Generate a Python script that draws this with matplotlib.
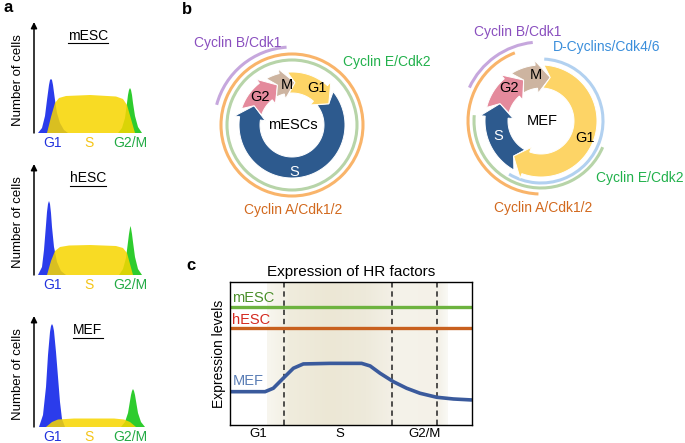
import numpy as np
import matplotlib
matplotlib.use('Agg')
import matplotlib.pyplot as plt
from matplotlib.patches import Arc, Polygon
from matplotlib.colors import LinearSegmentedColormap
from matplotlib.lines import Line2D

plt.rcParams['font.family'] = ['Liberation Sans', 'DejaVu Sans']

W, H = 685, 443

# ---------------- data: panel a (DNA content profiles) ----------------
HIST_NAMES = ['mESC', 'hESC', 'MEF']
G1_X = [[4, 8, 11, 13, 15, 16, 17, 18, 19, 21, 23, 26, 30, 34],
        [4, 8, 10, 12, 13, 14, 15, 16, 17, 18, 20, 23, 27, 32],
        [5, 9, 12, 14, 16, 17, 18, 19, 20, 22, 24, 26, 28, 31]]
G1_Y = [[0, 5, 17, 33, 48, 53, 54, 53, 48, 33, 20, 10, 3, 0],
        [0, 8, 25, 50, 63, 71, 74, 71, 62, 48, 28, 13, 4, 0],
        [0, 12, 40, 72, 95, 101, 103, 101, 96, 75, 50, 25, 8, 0]]
S_X = [[13, 17, 21, 25, 32, 56, 82, 89, 93, 97, 101],
       [13, 17, 21, 26, 35, 56, 82, 89, 93, 96, 99],
       [12, 18, 24, 40, 60, 80, 90, 96, 102]]
S_Y = [[0, 16, 30, 35, 37, 38, 36.5, 34, 28, 14, 0],
       [0, 14, 24, 28, 29.5, 30, 29, 27, 22, 11, 0],
       [0, 5, 7.5, 8.5, 8.5, 8.5, 7.5, 5, 0]]
G2M_X = [[84, 88, 91, 93, 94, 95, 96, 97, 98, 99, 101, 104, 108],
         [85, 89, 92, 94, 95, 96, 96.5, 97, 98, 99, 101, 104, 108],
         [87, 91, 94, 96, 97, 98, 99, 100, 101, 102, 104, 107, 111]]
G2M_Y = [[0, 5, 15, 30, 38, 43, 45, 43, 38, 30, 17, 6, 0],
         [0, 6, 17, 33, 41, 47, 49, 47, 41, 33, 18, 6, 0],
         [0, 5, 14, 26, 32, 36, 38, 36, 32, 26, 14, 5, 0]]

# ---------------- data: panel b (cell cycle) ----------------
PHASES = ['S', 'G2', 'M', 'G1']
MESC_START = [39, 162, 119, 95]      # degrees, arrows run clockwise
MESC_TIP = [-207, 110, 86, 30]
MEF_START = [241, 166, 122, 87]
MEF_TIP = [157, 113, 78, -128]

# cyclin arcs: (label, radius, theta1, theta2)
MESC_CYCLINS = [('Cyclin B/Cdk1', 78, 94, 165),
                ('Cyclin E/Cdk2', 65, 0, 360),
                ('Cyclin A/Cdk1/2', 71, 0, 360)]
MEF_CYCLINS = [('Cyclin B/Cdk1', 79, 96, 155),
               ('D-Cyclins/Cdk4/6', 62, -121, 87),
               ('Cyclin E/Cdk2', 67, 175, 337),
               ('Cyclin A/Cdk1/2', 73, 111, 268)]

# ---------------- data: panel c (HR factor expression) ----------------
EXPR_X = [0, 14.5, 17.9, 22.0, 26.2, 30.3, 41.3, 54.4, 57.9, 62.0, 67.5, 73.0, 78.5, 85.4, 92.3, 100]
MEF_EXPR = [23.3, 23.3, 25.7, 32.7, 39.7, 42.7, 43.1, 43.1, 41.3, 36.2, 30.3, 25.7, 22.2, 19.4, 18.2, 17.5]
MESC_EXPR = 82.5
HESC_EXPR = 67.8
PHASE_BOUNDS = [22.3, 66.9, 85.5]
PHASE_TICKS = [11.6, 45.5, 80.6]
PHASE_LABELS = ['G1', 'S', 'G2/M']
SHADE_SPAN = [15.3, 89.7]

# ---------------- styles ----------------
C_BLUE, C_YEL, C_GRN = '#2B3CEB', '#F7D600', '#2ECC2E'
PHASE_COL = {'G1': '#FDD466', 'S': '#2D5A8E', 'G2': '#E48A9C', 'M': '#CDB4A0'}
CYC_COL = {'Cyclin B/Cdk1': ('#C6A7DD', '#8A4FBF'),
           'Cyclin E/Cdk2': ('#B7D4A8', '#22B14C'),
           'Cyclin A/Cdk1/2': ('#F9B46A', '#D2691E'),
           'D-Cyclins/Cdk4/6': ('#B2D1F0', '#3A8EDB')}


def px_axes(fig, left, top, right, bottom):
    return fig.add_axes([left / W, 1 - bottom / H, (right - left) / W, (bottom - top) / H])


fig = plt.figure(figsize=(W / 100, H / 100), dpi=100)

# ===== panel a =====
hist_tops = [22, 164, 316]
underline_texts = []
for i, name in enumerate(HIST_NAMES):
    top = hist_tops[i]
    ax = px_axes(fig, 34, top, 146, top + 111)
    ax.set_xlim(0, 112)
    ax.set_ylim(0, 111)
    ax.axis('off')
    ax.fill(G1_X[i], G1_Y[i], color=C_BLUE, lw=0, zorder=2)
    ax.fill(G2M_X[i], G2M_Y[i], color=C_GRN, lw=0, zorder=2)
    ax.fill(S_X[i], S_Y[i], color=C_YEL, alpha=0.86, lw=0, zorder=3)
    ax.annotate('', xy=(0, 1), xycoords='axes fraction', xytext=(0, 0),
                arrowprops=dict(arrowstyle='-|>', lw=1.1, color='black', mutation_scale=9,
                                shrinkA=0, shrinkB=0), annotation_clip=False)
    t = ax.text(54, 97, name, ha='center', va='center', fontsize=10)
    underline_texts.append((t, ax))
    ax.text(-16, 53, 'Number of cells', rotation=90, ha='center', va='center', fontsize=9.5)
    ax.text(18, -10, 'G1', color='#2233DD', ha='center', va='center', fontsize=10)
    ax.text(55, -10, 'S', color='#F5C518', ha='center', va='center', fontsize=10)
    ax.text(96, -10, 'G2/M', color='#22AA44', ha='center', va='center', fontsize=10)

fig.text(4 / W, 1 - 8 / H, 'a', fontsize=12, fontweight='bold', va='center')
fig.text(182 / W, 1 - 10 / H, 'b', fontsize=12, fontweight='bold', va='center')
fig.text(186 / W, 1 - 265 / H, 'c', fontsize=12, fontweight='bold', va='center')


# ===== panel b =====
def polar(r, a):
    a = np.radians(a)
    return (r * np.cos(a), r * np.sin(a))


def cycle_arrow(ax, start, tip, r_in, r_out, color, head=18, notch=9, flare=5):
    r_mid = (r_in + r_out) / 2
    neck = tip + head
    angs = np.linspace(start, neck, 80)
    pts = [polar(r_out, a) for a in angs]
    pts += [polar(r_out + flare, neck), polar(r_mid, tip), polar(r_in - flare, neck)]
    pts += [polar(r_in, a) for a in angs[::-1]]
    pts += [polar(r_mid, start - notch)]
    ax.add_patch(Polygon(pts, closed=True, fc=color, ec='white', lw=0.7))


def cycle_panel(cx, cy, r_in, r_out, starts, tips, cyclins, inner, label_pos):
    ax = px_axes(fig, cx - 100, cy - 100, cx + 100, cy + 100)
    ax.set_xlim(-100, 100)
    ax.set_ylim(-100, 100)
    ax.axis('off')
    for name, r, t1, t2 in cyclins:
        ax.add_patch(Arc((0, 0), 2 * r, 2 * r, theta1=t1, theta2=t2,
                         color=CYC_COL[name][0], lw=2.2))
    for ph, s, t in zip(PHASES, starts, tips):
        cycle_arrow(ax, s, t, r_in, r_out, PHASE_COL[ph])
    ax.text(1, 0, inner, ha='center', va='center', fontsize=10.5)
    for ph, (x, y) in label_pos.items():
        ax.text(x, y, ph, ha='center', va='center', fontsize=10.5,
                color='white' if ph == 'S' else 'black')
    return ax


cycle_panel(292, 125, 32, 53, MESC_START, MESC_TIP, MESC_CYCLINS, 'mESCs',
            {'G2': (-32, 28), 'M': (-5, 40), 'G1': (25, 37), 'S': (2, -47)})
cycle_panel(541, 121, 33, 56, MEF_START, MEF_TIP, MEF_CYCLINS, 'MEF',
            {'G2': (-32, 33), 'M': (-5, 46), 'G1': (44, -17), 'S': (-43, -15)})

cyc_text_pos = [('Cyclin B/Cdk1', 238, 43), ('Cyclin E/Cdk2', 387, 62), ('Cyclin A/Cdk1/2', 293, 210),
                ('Cyclin B/Cdk1', 518, 32), ('D-Cyclins/Cdk4/6', 607, 47),
                ('Cyclin E/Cdk2', 640, 178), ('Cyclin A/Cdk1/2', 543, 208)]
for name, x, y in cyc_text_pos:
    fig.text(x / W, 1 - y / H, name, color=CYC_COL[name][1], ha='center', va='center', fontsize=10)

# ===== panel c =====
axc = px_axes(fig, 230, 282, 472, 425)
axc.set_xlim(0, 100)
axc.set_ylim(0, 100)
shade = LinearSegmentedColormap.from_list('shade', [
    (0.0, '#F8F6EF'), (0.09, '#F4F1E6'), (0.12, '#F0ECDD'), (0.35, '#ECE7D5'),
    (0.55, '#EEEADB'), (0.69, '#F3F0E6'), (0.72, '#F5F3EA'), (0.95, '#F4F1E8'), (1.0, '#FAF9F5')])
axc.imshow(np.linspace(0, 1, 256)[None, :], cmap=shade, aspect='auto',
           extent=[SHADE_SPAN[0], SHADE_SPAN[1], 0, 100], zorder=0)
for b in PHASE_BOUNDS:
    axc.axvline(b, color='#222222', lw=1.1, ls=(0, (3.5, 2.5)), zorder=1)
axc.axhline(MESC_EXPR, color='#6DB33F', lw=2.4, zorder=2)
axc.axhline(HESC_EXPR, color='#C8601E', lw=2.4, zorder=2)
axc.plot(EXPR_X, MEF_EXPR, color='#3A5A9C', lw=2.6, solid_capstyle='butt',
         solid_joinstyle='round', zorder=2)
axc.text(1, 88.8, 'mESC', color='#4A8F2A', fontsize=10.5, va='center')
axc.text(1, 73.4, 'hESC', color='#D42A20', fontsize=10.5, va='center')
axc.text(1, 30.8, 'MEF', color='#5A7DB5', fontsize=10.5, va='center')
axc.set_xticks(PHASE_TICKS)
axc.set_xticklabels(PHASE_LABELS, fontsize=9.5)
axc.set_yticks([])
axc.tick_params(axis='x', length=0, pad=2.5)
axc.set_ylabel('Expression levels', fontsize=10, labelpad=3)
axc.set_title('Expression of HR factors', fontsize=11, pad=4)
for sp in axc.spines.values():
    sp.set_linewidth(1.0)

# underline the histogram titles
fig.canvas.draw()
r = fig.canvas.get_renderer()
for t, ax in underline_texts:
    bb = t.get_window_extent(renderer=r)
    y = bb.y0 - 0.5
    fig.add_artist(Line2D([bb.x0 / W, bb.x1 / W], [y / H, y / H], color='black', lw=0.8))

fig.savefig('out.png', dpi=100)
